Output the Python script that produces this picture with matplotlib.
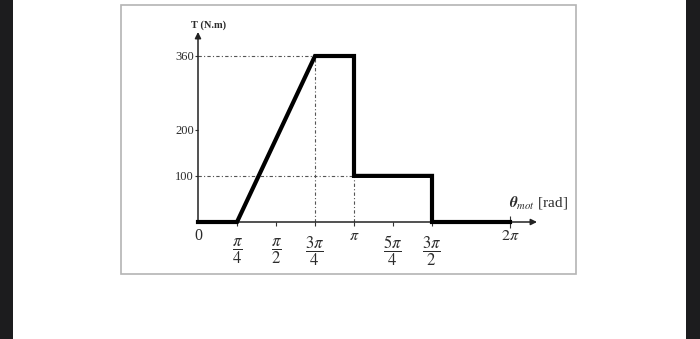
import numpy as np
import matplotlib
matplotlib.use("Agg")
import matplotlib.pyplot as plt
from matplotlib.patches import Rectangle
from matplotlib.transforms import offset_copy

plt.rcParams['mathtext.fontset'] = 'stix'
plt.rcParams['font.family'] = ['Liberation Serif', 'DejaVu Serif']

# ---- data ----
pi = np.pi
theta = [0, pi/4, 3*pi/4, pi, pi, 3*pi/2, 3*pi/2, 2*pi]
torque = [0, 0, 360, 360, 100, 100, 0, 0]
xtick_vals = [0, pi/4, pi/2, 3*pi/4, pi, 5*pi/4, 3*pi/2, 2*pi]
xtick_labels = ['0', r'$\dfrac{\pi}{4}$', r'$\dfrac{\pi}{2}$', r'$\dfrac{3\pi}{4}$',
                r'$\pi$', r'$\dfrac{5\pi}{4}$', r'$\dfrac{3\pi}{2}$', r'$2\pi$']
ytick_vals = [100, 200, 360]
ytick_labels = ['100', '200', '360']

W, H = 700, 339
fig = plt.figure(figsize=(7, 3.39), dpi=100)
fig.patch.set_facecolor('white')

# side dark bars and frame
fig.patches.append(Rectangle((0, 0), 13/W, 1, transform=fig.transFigure,
                             facecolor='#1c1c1e', edgecolor='none', zorder=0))
fig.patches.append(Rectangle((686/W, 0), 14/W, 1, transform=fig.transFigure,
                             facecolor='#1c1c1e', edgecolor='none', zorder=0))
fig.patches.append(Rectangle((121/W, (H-274)/H), 455/W, 269/H, transform=fig.transFigure,
                             facecolor='none', edgecolor='#b4b4b4', lw=1.2, zorder=0))

left, right, bottom, top = 198, 537, 222, 32
ax = fig.add_axes([left/W, (H-bottom)/H, (right-left)/W, (bottom-top)/H])
ax.set_zorder(3)
ax.set_facecolor('none')
ax.set_xlim(0, 2*pi*(right-left)/(510-left))
ax.set_ylim(0, 360*(bottom-top)/(bottom-56))
for s in ax.spines.values():
    s.set_visible(False)

txt = '#2b2b2b'
grid_c = '#555555'

# guide lines (dash-dot)
peak_start = theta[2]
drop_x = theta[3]
ls = (0, (3, 2, 1, 2))
ax.hlines(torque[2], 0, peak_start, colors=grid_c, linestyles=[ls], lw=0.8)
ax.vlines(peak_start, 0, torque[2], colors=grid_c, linestyles=[ls], lw=0.8)
ax.hlines(torque[4], 0, drop_x, colors=grid_c, linestyles=[ls], lw=0.8)
ax.vlines(drop_x, 0, torque[4], colors=grid_c, linestyles=[ls], lw=0.8)

# axes arrows
ax.annotate('', xy=(0, 1), xycoords='axes fraction', xytext=(0, 0),
            arrowprops=dict(arrowstyle='-|>', color='#222222', lw=1.1,
                            mutation_scale=9, shrinkA=0, shrinkB=0))
ax.annotate('', xy=(1, 0), xycoords='axes fraction', xytext=(0, 0),
            arrowprops=dict(arrowstyle='-|>', color='#222222', lw=1.1,
                            mutation_scale=9, shrinkA=0, shrinkB=0))

# main curve
ax.plot(theta, torque, color='black', lw=3.0, solid_joinstyle='miter',
        clip_on=False, zorder=5)

# ticks
ax.set_xticks(xtick_vals[1:-1])
ax.set_xticklabels([])
ax.set_xticks([xtick_vals[-1]], minor=True)
ax.tick_params(axis='x', which='major', direction='out', length=3, width=0.8, color='#333333')
ax.tick_params(axis='x', which='minor', direction='inout', length=8, width=0.8, color='#333333')
ax.set_yticks(ytick_vals)
ax.set_yticklabels(ytick_labels, fontsize=9, color=txt)
ax.tick_params(axis='y', direction='out', length=2, width=0.8, pad=1, color='#333333')

# x tick labels
for v, lab in zip(xtick_vals, xtick_labels):
    frac = 'dfrac' in lab
    dy = -29 if frac else -14
    tr = offset_copy(ax.get_xaxis_transform(), fig=fig, x=0, y=dy, units='dots')
    ax.text(v, 0, lab, transform=tr, ha='center', va='center',
            fontsize=12 if frac else 11.5, color=txt)

# axis titles
ax.text(0.03, 1.01, 'T (N.m)', transform=ax.transAxes, ha='center', va='bottom',
        fontsize=7.5, fontweight='bold', color=txt)
ax.text(1.003, 0.105, r'$\boldsymbol{\theta}_{mot}$ [rad]', transform=ax.transAxes,
        ha='center', va='center', fontsize=11, color=txt)

fig.savefig('out.png', dpi=100)
